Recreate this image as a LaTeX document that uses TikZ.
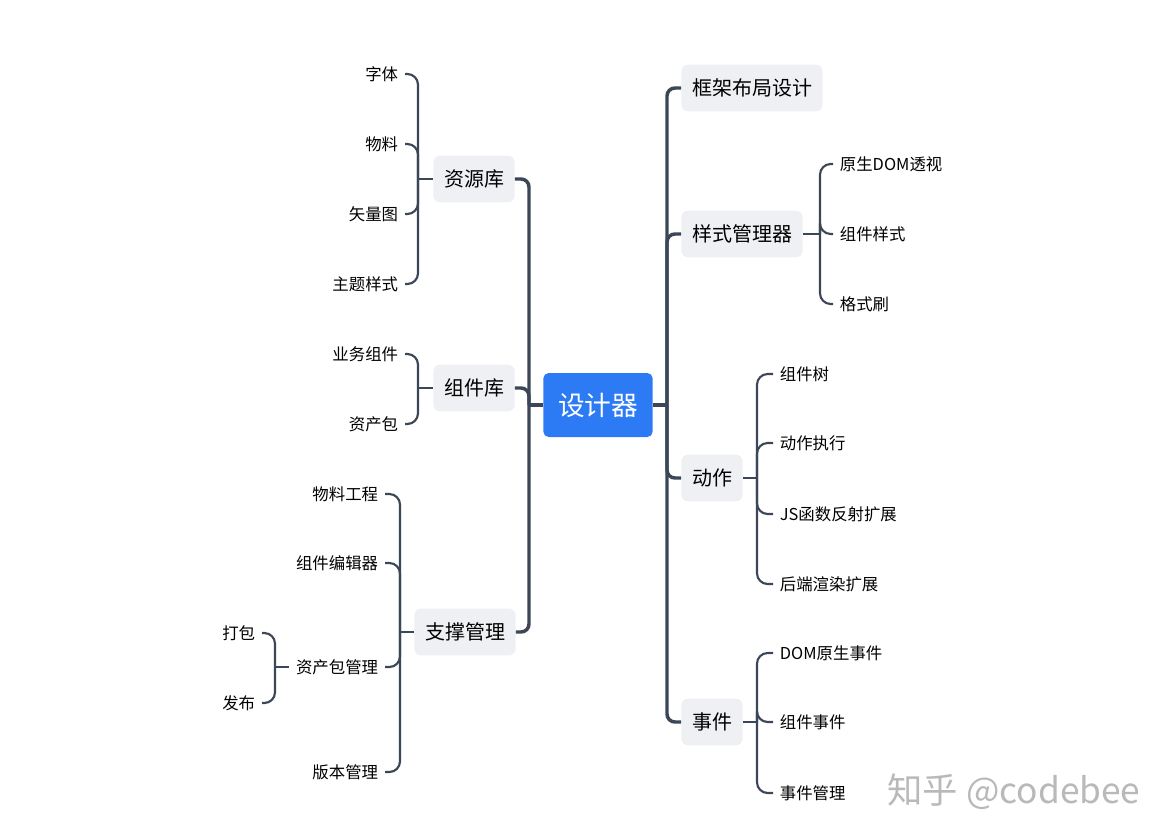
\documentclass[tikz,border=0pt]{standalone}
\usepackage{fontspec}
\setmainfont{Noto Sans CJK SC}
\definecolor{linec}{HTML}{3B4656}
\definecolor{boxc}{HTML}{EEF0F3}
\definecolor{rootc}{HTML}{2C7BF4}
\tikzset{
  root/.style={fill=rootc, text=white, rounded corners=4pt, minimum width=82pt, minimum height=48pt, font=\fontsize{20}{24}\selectfont},
  topic/.style={fill=boxc, rounded corners=5pt, minimum height=35pt, inner xsep=8pt, font=\fontsize{15}{18}\selectfont},
  leaf/.style={inner xsep=5pt, inner ysep=2pt, font=\fontsize{12.3}{14}\selectfont},
  trunk/.style={draw=linec, line width=2.6pt, rounded corners=6pt},
  twig/.style={draw=linec, line width=1.6pt, rounded corners=8pt},
}
\begin{document}
\begin{tikzpicture}[x=0.75pt, y=-0.75pt]
\useasboundingbox (0,0) rectangle (1171,838);
\node[root] (sj) at (598,405) {设计器};
% left side
\node[topic] (zyk) at (474,179) {资源库};
\node[topic] (zjk) at (474,388) {组件库};
\node[topic] (zcgl) at (465,632) {支撑管理};
% right side
\node[topic] (kj) at (752,88) {框架布局设计};
\node[topic] (ys) at (742,234) {样式管理器};
\node[topic] (dz) at (712,478) {动作};
\node[topic] (sc) at (712,722) {事件};

\coordinate (jl) at (529,405);
\coordinate (jr) at (667,405);
\draw[trunk] (sj.west) -- (jl);
\draw[trunk] (sj.east) -- (jr);
\foreach \n in {zyk,zjk,zcgl} \draw[trunk] (jl) |- (\n.east);
\foreach \n in {kj,ys,dz,sc} \draw[trunk] (jr) |- (\n.west);

% leaves
\coordinate (jzy) at (418,179);
\draw[twig] (zyk.west) -- (jzy);
\foreach \t/\y [count=\i] in {字体/74,物料/144,矢量图/214,主题样式/284}{
  \node[leaf, anchor=east] (zy\i) at (405,\y) {\t};
  \draw[twig] (jzy) |- (zy\i.east);
}
\coordinate (jzj) at (418,388);
\draw[twig] (zjk.west) -- (jzj);
\foreach \t/\y [count=\i] in {业务组件/354,资产包/424}{
  \node[leaf, anchor=east] (zj\i) at (405,\y) {\t};
  \draw[twig] (jzj) |- (zj\i.east);
}
\coordinate (jzc) at (400,632);
\draw[twig] (zcgl.west) -- (jzc);
\foreach \t/\y [count=\i] in {物料工程/494,组件编辑器/563,资产包管理/667,版本管理/772}{
  \node[leaf, anchor=east] (zc\i) at (385,\y) {\t};
  \draw[twig] (jzc) |- (zc\i.east);
}
\coordinate (jzc3) at (275,667);
\draw[twig] (zc3.west) -- (jzc3);
\foreach \t/\y [count=\i] in {打包/633,发布/703}{
  \node[leaf, anchor=east] (fb\i) at (262,\y) {\t};
  \draw[twig] (jzc3) |- (fb\i.east);
}
\coordinate (jys) at (820,234);
\draw[twig] (ys.east) -- (jys);
\foreach \t/\y [count=\i] in {原生DOM透视/164,组件样式/234,格式刷/304}{
  \node[leaf, anchor=west] (ys\i) at (833,\y) {\t};
  \draw[twig] (jys) |- (ys\i.west);
}
\coordinate (jdz) at (757,478);
\draw[twig] (dz.east) -- (jdz);
\foreach \t/\y [count=\i] in {组件树/374,动作执行/443,JS函数反射扩展/514,后端渲染扩展/584}{
  \node[leaf, anchor=west] (dz\i) at (773,\y) {\t};
  \draw[twig] (jdz) |- (dz\i.west);
}
\coordinate (jsc) at (757,722);
\draw[twig] (sc.east) -- (jsc);
\foreach \t/\y [count=\i] in {DOM原生事件/653,组件事件/722,事件管理/793}{
  \node[leaf, anchor=west] (sc\i) at (773,\y) {\t};
  \draw[twig] (jsc) |- (sc\i.west);
}

\node[text=gray!55, font=\fontsize{26.5}{30}\selectfont] (wm) at (1014,792) {知乎 @codebee};
\end{tikzpicture}
\end{document}
